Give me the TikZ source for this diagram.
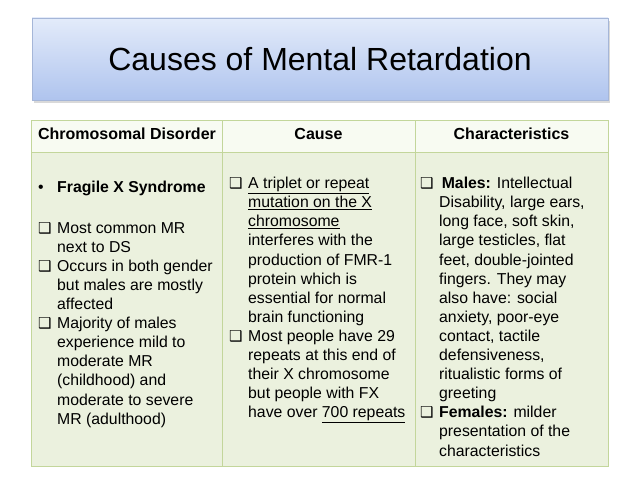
\documentclass[tikz,border=0pt]{standalone}
\usepackage{fontspec}
\setmainfont{Liberation Sans}
\newfontfamily\symf{DejaVu Sans}
\usetikzlibrary{shadows}
\definecolor{bord}{HTML}{C3D69B}
\definecolor{bodyc}{HTML}{EBF1DE}
\definecolor{headc}{HTML}{F8FBF2}
\definecolor{tbA}{HTML}{E3EBFA}
\definecolor{tbB}{HTML}{AFC4EE}
\newcommand{\bx}{\makebox[19pt][l]{\symf\fontsize{15}{19}\selectfont ❑}}
\newcommand{\ind}{\hspace*{19pt}}
\tikzset{
 cell/.style={anchor=north west,align=left,inner sep=0pt,font=\fontsize{15.8}{19.1}\selectfont},
 head/.style={font=\fontsize{16}{18}\selectfont\bfseries}
}
\begin{document}
\begin{tikzpicture}[x=1pt,y=-1pt]
\useasboundingbox (0,0) rectangle (638,478);
\node[draw=tbB!80!gray,top color=tbA,bottom color=tbB,minimum width=576pt,minimum height=82pt,drop shadow={shadow xshift=2pt,shadow yshift=-3pt,opacity=0.3},font=\fontsize{32}{36}\selectfont] (title) at (320,59) {Causes of Mental Retardation};
\fill[headc] (31,121) rectangle (608,153);
\fill[bodyc] (31,153) rectangle (608,467);
\draw[bord,line width=1pt] (31,121) rectangle (608,467) (31,153) -- (608,153) (222,121) -- (222,467) (415,121) -- (415,467);
\node[head] (h1) at (127,134) {Chromosomal Disorder};
\node[head] (h2) at (318.5,134) {Cause};
\node[head] (h3) at (511.5,134) {Characteristics};
\node[cell] (c1a) at (38,181) {\makebox[19pt][l]{•}\textbf{Fragile X Syndrome}};
\node[cell] (c1) at (38,222) {\bx Most common MR\\\ind next to DS\\\bx Occurs in both gender\\\ind but males are mostly\\\ind affected\\\bx Majority of males\\\ind experience mild to\\\ind moderate MR\\\ind (childhood) and\\\ind moderate to severe\\\ind MR (adulthood)};
\node[cell] (c2) at (229,177) {\bx \underline{A triplet or repeat}\\\ind \underline{mutation on the X}\\\ind \underline{chromosome}\\\ind interferes with the\\\ind production of FMR-1\\\ind protein which is\\\ind essential for normal\\\ind brain functioning\\\bx Most people have 29\\\ind repeats at this end of\\\ind their X chromosome\\\ind but people with FX\\\ind have over \underline{700 repeats}};
\node[cell] (c3) at (420,177) {\bx \,\textbf{Males:} Intellectual\\\ind Disability, large ears,\\\ind long face, soft skin,\\\ind large testicles, flat\\\ind feet, double-jointed\\\ind fingers. They may\\\ind also have: social\\\ind anxiety, poor-eye\\\ind contact, tactile\\\ind defensiveness,\\\ind ritualistic forms of\\\ind greeting\\\bx \textbf{Females:} milder\\\ind presentation of the\\\ind characteristics};
\end{tikzpicture}
\end{document}
